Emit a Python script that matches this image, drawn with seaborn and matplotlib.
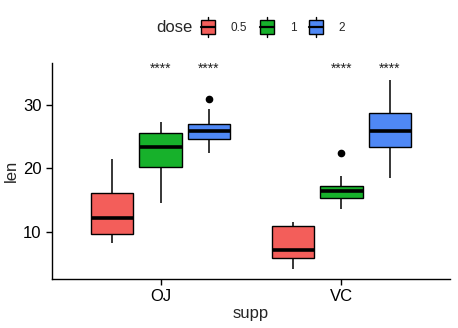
import matplotlib
matplotlib.use("Agg")
import matplotlib.pyplot as plt
import seaborn as sns
import pandas as pd
from matplotlib.legend_handler import HandlerBase
from matplotlib.patches import Rectangle
from matplotlib.lines import Line2D
from matplotlib.offsetbox import HPacker

# ToothGrowth values read for each supp / dose group
oj_05 = [15.2, 21.5, 17.6, 9.7, 14.5, 10.0, 8.2, 9.4, 16.5, 9.7]
oj_1 = [19.7, 23.3, 23.6, 26.4, 20.0, 25.2, 25.8, 21.2, 14.5, 27.3]
oj_2 = [25.5, 26.4, 22.4, 24.5, 24.8, 30.9, 26.4, 27.3, 29.4, 23.0]
vc_05 = [4.2, 11.5, 7.3, 5.8, 6.4, 10.0, 11.2, 11.2, 5.2, 7.0]
vc_1 = [16.5, 16.5, 15.2, 17.3, 22.5, 17.3, 13.6, 14.5, 18.8, 15.5]
vc_2 = [23.6, 18.5, 33.9, 25.5, 26.4, 32.5, 26.7, 21.5, 23.3, 29.5]

supps = ["OJ", "VC"]
doses = ["0.5", "1", "2"]
signif_labels = ["****", "****"]  # dose 1 and 2 vs 0.5, per supp
label_y = 34.6
colors = ["#F35E5A", "#17B12B", "#4F88F5"]

groups = {("OJ", "0.5"): oj_05, ("OJ", "1"): oj_1, ("OJ", "2"): oj_2,
          ("VC", "0.5"): vc_05, ("VC", "1"): vc_1, ("VC", "2"): vc_2}
rows = []
for (s, d), vals in groups.items():
    for v in vals:
        rows.append({"supp": s, "dose": d, "len": v})
df = pd.DataFrame(rows)

sns.set_style("ticks")
plt.rcParams["font.family"] = ["Liberation Sans", "DejaVu Sans"]

fig = plt.figure(figsize=(4.58, 3.28), dpi=100)
ax = fig.add_axes([52 / 458, 49 / 328, 398 / 458, 216 / 328])

sns.boxplot(data=df, x="supp", y="len", hue="dose", order=supps, hue_order=doses,
            palette=colors, width=0.8, gap=0.125, saturation=1, ax=ax,
            linecolor="black", linewidth=1.0,
            medianprops=dict(linewidth=2.6, color="black"),
            whiskerprops=dict(linewidth=1.1), capprops=dict(linewidth=0),
            flierprops=dict(marker="o", markerfacecolor="black",
                            markeredgecolor="black", markersize=4.5))

# significance labels above dose 1 and 2 within each supp
step = 0.8 / len(doses)
for i, s in enumerate(supps):
    for j, d in enumerate(doses[1:], start=1):
        ax.text(i + (j - 1) * step, label_y, signif_labels[j - 1], ha="center",
                va="bottom", fontsize=10, color="#222222")

ax.set_xlim(-0.6, 1.6)
ax.set_ylim(2.6, 36.6)
ax.set_yticks([10, 20, 30])
ax.tick_params(axis="both", labelsize=12, colors="black", length=4, width=1)
ax.set_xlabel("supp", fontsize=12, labelpad=1)
ax.set_ylabel("len", fontsize=12, labelpad=3)
for side in ["top", "right"]:
    ax.spines[side].set_visible(False)
for side in ["left", "bottom"]:
    ax.spines[side].set_linewidth(1.0)
    ax.spines[side].set_color("black")

PT = 72 / 100  # points per pixel


class BoxHandler(HandlerBase):
    def create_artists(self, legend, orig_handle, xdescent, ydescent, width,
                       height, fontsize, trans):
        x0 = -xdescent
        cy = -ydescent + height / 2
        bw, bh, wl = 14 * PT, 14 * PT, 3 * PT
        bx = x0 + (width - bw) / 2
        cx = bx + bw / 2
        rect = Rectangle((bx, cy - bh / 2), bw, bh,
                         facecolor=orig_handle.get_facecolor(),
                         edgecolor="black", linewidth=1.0, transform=trans)
        med = Line2D([bx, bx + bw], [cy, cy], color="black",
                     linewidth=1.6, transform=trans)
        w1 = Line2D([cx, cx], [cy - bh / 2 - wl, cy - bh / 2],
                    color="black", linewidth=1.0, transform=trans)
        w2 = Line2D([cx, cx], [cy + bh / 2, cy + bh / 2 + wl],
                    color="black", linewidth=1.0, transform=trans)
        return [rect, med, w1, w2]


ax.get_legend().remove()
handles = [Rectangle((0, 0), 1, 1, facecolor=c) for c in colors]
leg = fig.legend(handles, doses, title="dose", loc="center",
                 bbox_to_anchor=(0.548, 1 - 28 / 328), ncol=3, frameon=False,
                 fontsize=8.5, title_fontsize=12,
                 handler_map={Rectangle: BoxHandler()},
                 handlelength=1.2, handleheight=1.0, handletextpad=1.3,
                 columnspacing=1.1, borderaxespad=0)
title_box = leg._legend_title_box
body = leg._legend_handle_box
leg._legend_box._children = [HPacker(pad=0, sep=6, align="center",
                                     children=[title_box, body])]

fig.savefig("out.png", dpi=100)
